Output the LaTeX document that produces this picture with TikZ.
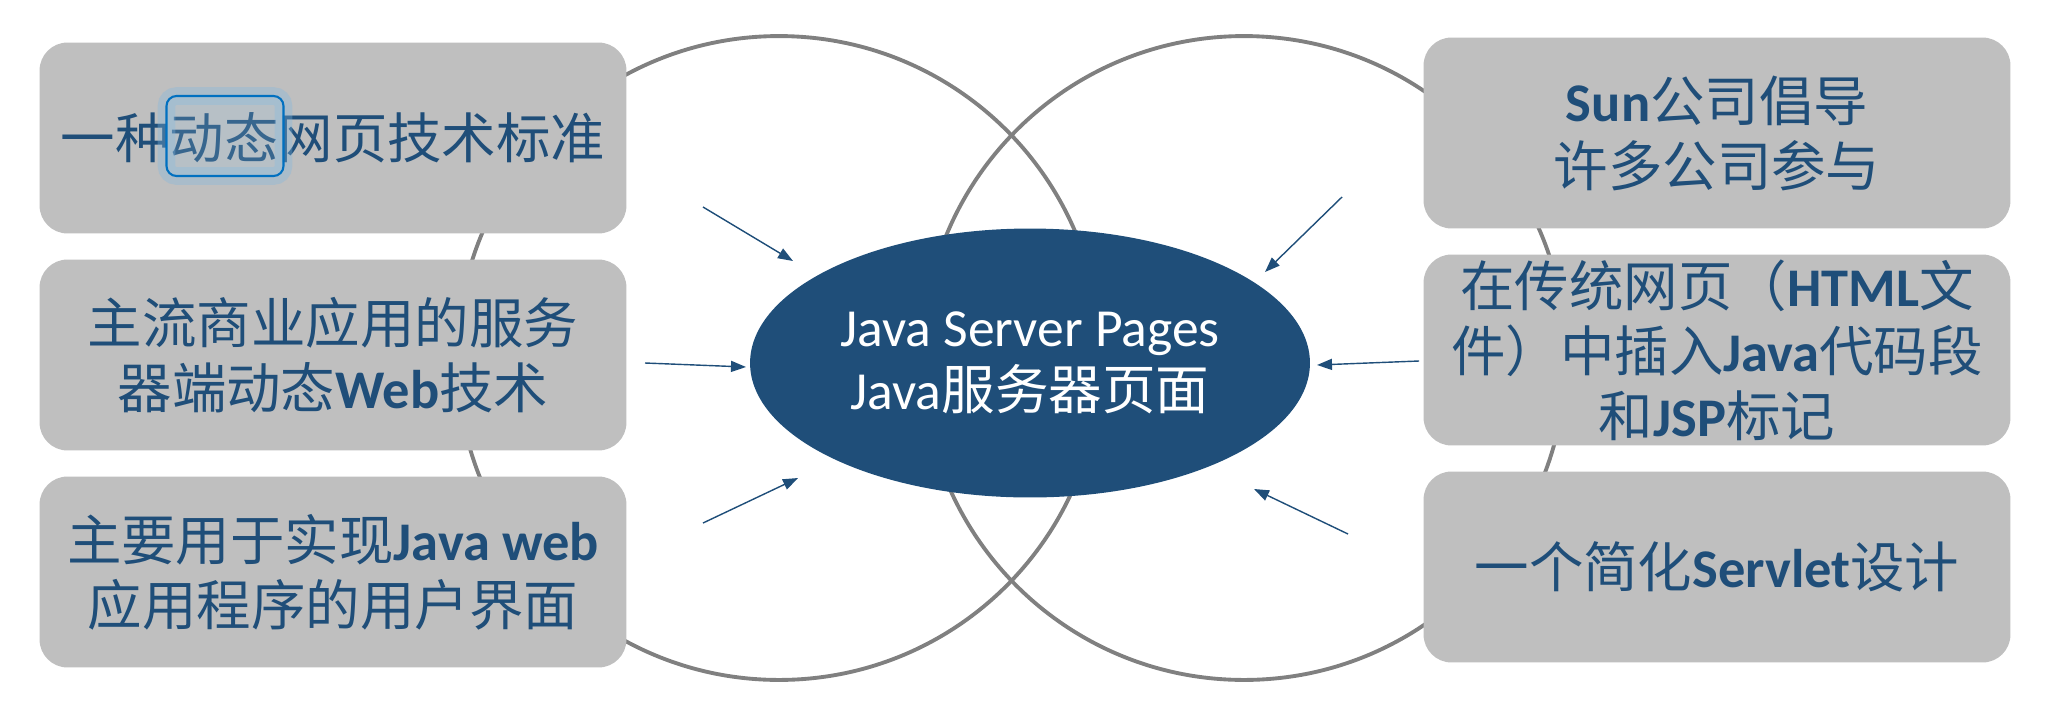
\documentclass[tikz,border=0pt]{standalone}
\usepackage{fontspec}
\setmainfont{Carlito}
\newfontfamily\zhfont{Noto Sans CJK SC}
\usetikzlibrary{arrows.meta,shapes.geometric}
\definecolor{jspblue}{RGB}{31,78,121}
\definecolor{ringgray}{RGB}{128,128,128}
\definecolor{boxgray}{RGB}{191,191,191}
\definecolor{markblue}{RGB}{0,112,192}
\newcommand{\zh}[1]{{\zhfont #1}}
\newcommand{\lat}[1]{\textbf{#1}}

\begin{document}
\begin{tikzpicture}[x=0.02cm,y=-0.02cm,
 ring/.style={circle,draw=ringgray,line width=2.2pt,minimum size=12.88cm,inner sep=0pt},
 item/.style={fill=boxgray,rounded corners=0.56cm,minimum width=11.74cm,minimum height=3.82cm,align=center,text=jspblue,font=\fontsize{31}{37}\selectfont,inner sep=0pt},
 core/.style={ellipse,fill=jspblue,text=white,minimum width=11.2cm,minimum height=5.38cm,align=center,font=\fontsize{30.5}{36}\selectfont,inner sep=0pt},
 glowbox/.style={draw=markblue,line width=1.2pt,rounded corners=0.2cm,minimum width=2.34cm,minimum height=1.6cm,fill=markblue!40,fill opacity=0.2,preaction={draw=markblue!50,line width=10pt,draw opacity=0.35}},
 arr/.style={-{Triangle[length=0.3cm,width=0.22cm]},draw=jspblue,line width=0.8pt}]
\useasboundingbox (0,0) rectangle (2064,724);
% two rings behind everything
\node[ring] (lring) at (779,358) {};
\node[ring] (rring) at (1244,358) {};
% left column
\node[item] (standard) at (333,138) {\zh{一种动态网页技术标准}};
\node[item] (market) at (333,355) {\zh{主流商业应用的服务}\\\zh{器端动态}\lat{Web}\zh{技术}};
\node[item] (webui) at (333,572) {\zh{主要用于实现}\lat{Java web}\\\zh{应用程序的用户界面}};
\node[glowbox] (hl) at (225,136) {};
% right column
\node[item] (origin) at (1717,133) {\lat{Sun}\zh{公司倡导}\\\zh{许多公司参与}};
\node[item] (embed) at (1717,350) {\zh{在传统网页（}\lat{HTML}\zh{文}\\\zh{件）中插入}\lat{Java}\zh{代码段}\\\zh{和}\lat{JSP}\zh{标记}};
\node[item] (servlet) at (1717,567) {\zh{一个简化}\lat{Servlet}\zh{设计}};
% centre
\node[core] (jsp) at (1030,363) {Java Server Pages\\Java\zh{服务器页面}};
% arrows pointing at the centre
\coordinate (a1) at (703,207); \coordinate (b1) at (793,261);
\coordinate (a2) at (645,363); \coordinate (b2) at (746,367);
\coordinate (a3) at (703,523); \coordinate (b3) at (798,478);
\coordinate (a4) at (1342,197); \coordinate (b4) at (1265,272);
\coordinate (a5) at (1419,361); \coordinate (b5) at (1317,365);
\coordinate (a6) at (1348,534); \coordinate (b6) at (1254,489);
\foreach \i in {1,...,6} \draw[arr] (a\i) -- (b\i);
\end{tikzpicture}
\end{document}
